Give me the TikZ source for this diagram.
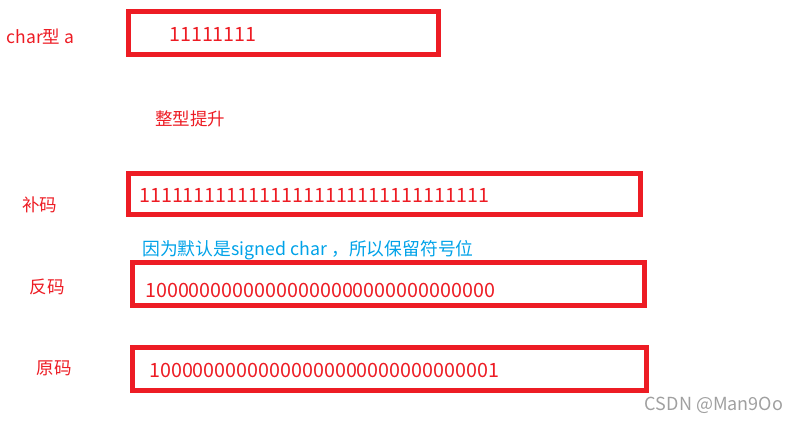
\documentclass[tikz,border=0pt]{standalone}
\usepackage{fontspec}
\setmainfont{Noto Sans CJK SC}
\usetikzlibrary{
	positioning
}
\definecolor{boxred}{RGB}{237,28,36}
\definecolor{noteblue}{RGB}{0,162,232}
\definecolor{markgray}{RGB}{160,160,160}

\begin{document}
\begin{tikzpicture}[x=1pt,y=-1pt,
	regbox/.style={draw=boxred,line width=5pt,minimum height=43pt,inner sep=0pt},
	bits/.style={text=boxred,font=\fontsize{19.7}{22}\selectfont,inner sep=0pt},
	lbl/.style={text=boxred,font=\fontsize{17.5}{20}\selectfont,inner sep=0pt},
	note/.style={text=noteblue,font=\fontsize{17.8}{20}\selectfont,inner sep=0pt},
	wmark/.style={text=markgray,font=\fontsize{18}{20}\selectfont,inner sep=0pt}]
	\useasboundingbox (0,0) rectangle (798,421);

	\node[regbox,minimum width=310pt] (b1) at (283.5,33) {};
	\node[regbox,minimum width=512pt,minimum height=41pt] (b2) at (384.5,194) {};
	\node[regbox,minimum width=512pt] (b3) at (388.5,284) {};
	\node[regbox,minimum width=514pt] (b4) at (389.5,369) {};

	\node[bits,right=43pt of b1.west,yshift=-1.5pt] (v1) {11111111};
	\node[bits,right=13pt of b2.west,yshift=-1pt] (v2) {11111111111111111111111111111111};
	\node[bits,right=15pt of b3.west,yshift=-6pt] (v3) {10000000000000000000000000000000};
	\node[bits,right=19pt of b4.west,yshift=-1.5pt] (v4) {10000000000000000000000000000001};

	\node[lbl] (ta) at (40.5,37) {char型 a};
	\node[lbl] (tp) at (190,119) {整型提升};
	\node[lbl] (tb) at (40,205) {补码};
	\node[lbl] (tf) at (47,287) {反码};
	\node[lbl] (ty) at (54,368) {原码};
	\node[note] (nt) at (308,250) {因为默认是signed char ，所以保留符号位};

	\node[wmark] (cs) at (714,405) {CSDN @Man9Oo};
\end{tikzpicture}
\end{document}
